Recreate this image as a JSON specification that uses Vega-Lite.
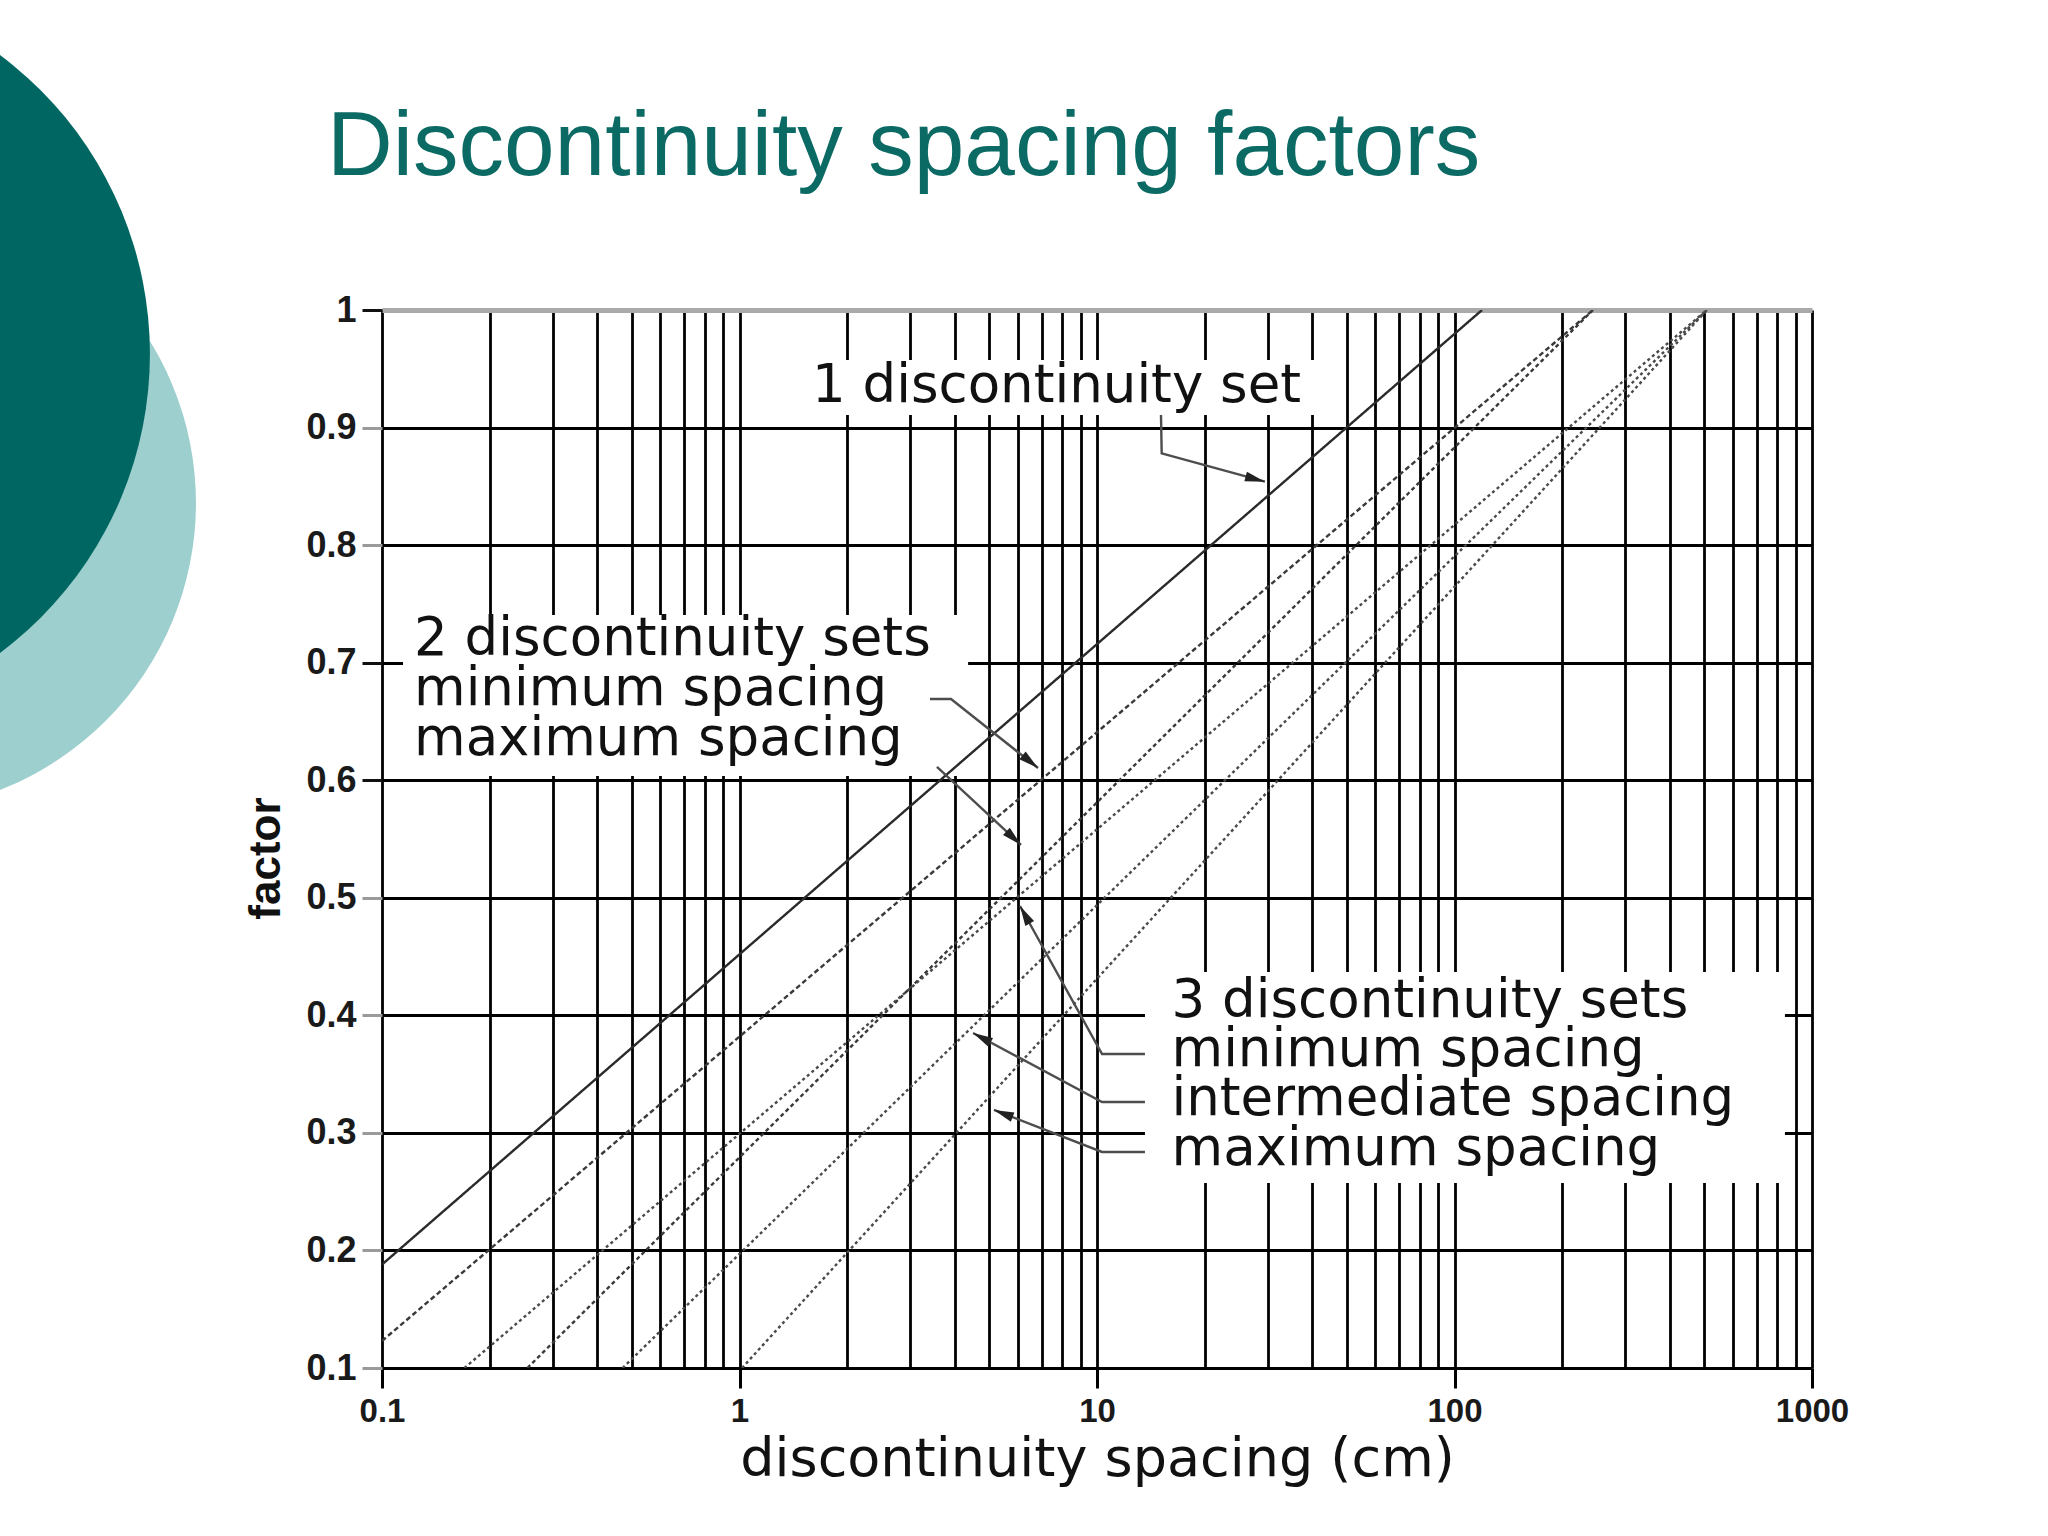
{
 "$schema": "https://vega.github.io/schema/vega-lite/v6.json",
 "width": 1430,
 "height": 1058,
 "autosize": {"type": "none"},
 "padding": {"left": 382, "top": 310, "right": 236, "bottom": 168},
 "background": "#ffffff",
 "config": {"view": {"stroke": null}},
 "title": {"text": "Discontinuity spacing factors", "anchor": "start", "frame": "group", "dx": -55, "offset": -285, "font": "Liberation Sans", "fontSize": 91, "fontWeight": "normal", "color": "#0b6a64", "baseline": "alphabetic"},
 "datasets": {
  "slide": [
   {"part": "light", "x": 0.00415, "y": 0.8358},
   {"part": "dark", "x": 0.00203, "y": 0.9626}
  ],
  "boxes": [
   {"box": "one", "x": 1.476, "x2": 44.8, "y": 0.9107, "y2": 0.9575},
   {"box": "two", "x": 0.1145, "x2": 4.36, "y": 0.6036, "y2": 0.7406},
   {"box": "three", "x": 13.62, "x2": 840, "y": 0.2574, "y2": 0.4369}
  ],
  "curves": [
   {"series": "1 set", "x": 0.1, "y": 0.188},
   {"series": "1 set", "x": 119.4, "y": 1.0},
   {"series": "2 sets minimum", "x": 0.1, "y": 0.123},
   {"series": "2 sets minimum", "x": 244, "y": 1.0},
   {"series": "2 sets maximum", "x": 0.255, "y": 0.1},
   {"series": "2 sets maximum", "x": 244, "y": 1.0},
   {"series": "3 sets minimum", "x": 0.17, "y": 0.1},
   {"series": "3 sets minimum", "x": 508, "y": 1.0},
   {"series": "3 sets intermediate", "x": 0.471, "y": 0.1},
   {"series": "3 sets intermediate", "x": 508, "y": 1.0},
   {"series": "3 sets maximum", "x": 1.016, "y": 0.1},
   {"series": "3 sets maximum", "x": 508, "y": 1.0}
  ],
  "leaders": [
   {"leader": "1 set", "order": 1, "x": 15.1, "y": 0.9107},
   {"leader": "1 set", "order": 2, "x": 15.17, "y": 0.8781},
   {"leader": "1 set", "order": 3, "x": 29.5, "y": 0.854},
   {"leader": "2 min", "order": 1, "x": 3.41, "y": 0.6691},
   {"leader": "2 min", "order": 2, "x": 3.905, "y": 0.6691},
   {"leader": "2 min", "order": 3, "x": 6.84, "y": 0.6104},
   {"leader": "2 max", "order": 1, "x": 3.567, "y": 0.6113},
   {"leader": "2 max", "order": 2, "x": 6.13, "y": 0.5449},
   {"leader": "3 min", "order": 1, "x": 13.62, "y": 0.3671},
   {"leader": "3 min", "order": 2, "x": 10.33, "y": 0.3671},
   {"leader": "3 min", "order": 3, "x": 6.09, "y": 0.493},
   {"leader": "3 int", "order": 1, "x": 13.62, "y": 0.3263},
   {"leader": "3 int", "order": 2, "x": 10.33, "y": 0.3263},
   {"leader": "3 int", "order": 3, "x": 4.5, "y": 0.385},
   {"leader": "3 max", "order": 1, "x": 13.62, "y": 0.2838},
   {"leader": "3 max", "order": 2, "x": 10.33, "y": 0.2838},
   {"leader": "3 max", "order": 3, "x": 5.15, "y": 0.3195}
  ],
  "arrows": [
   {"leader": "1 set", "x": 29.5, "y": 0.854},
   {"leader": "2 min", "x": 6.84, "y": 0.6104},
   {"leader": "2 max", "x": 6.13, "y": 0.5449},
   {"leader": "3 min", "x": 6.09, "y": 0.493},
   {"leader": "3 int", "x": 4.5, "y": 0.385},
   {"leader": "3 max", "x": 5.15, "y": 0.3195}
  ],
  "notes": [
   {"note": "one", "label": "1 discontinuity set", "x": 1.595, "y": 0.9217},
   {"note": "two", "label": "2 discontinuity sets\nminimum spacing\nmaximum spacing", "x": 0.1229, "y": 0.7065},
   {"note": "three", "label": "3 discontinuity sets\nminimum spacing\nintermediate spacing\nmaximum spacing", "x": 16.16, "y": 0.3989}
  ]
 },
 "layer": [
  {
   "data": {"name": "slide"},
   "transform": [{"filter": "datum.part == 'light'"}],
   "mark": {"type": "point", "shape": "circle", "filled": true, "size": 379456, "color": "#9dcfce", "opacity": 1, "strokeWidth": 0, "clip": false},
   "encoding": {
    "x": {"field": "x", "type": "quantitative", "scale": {"type": "log", "domain": [0.1, 1000], "nice": false}},
    "y": {"field": "y", "type": "quantitative", "scale": {"domain": [0.1, 1], "zero": false, "nice": false}}
   }
  },
  {
   "data": {"name": "slide"},
   "transform": [{"filter": "datum.part == 'dark'"}],
   "mark": {"type": "point", "shape": "circle", "filled": true, "size": 556516, "color": "#006661", "opacity": 1, "strokeWidth": 0, "clip": false},
   "encoding": {
    "x": {"field": "x", "type": "quantitative", "scale": {"type": "log", "domain": [0.1, 1000], "nice": false}},
    "y": {"field": "y", "type": "quantitative", "scale": {"domain": [0.1, 1], "zero": false, "nice": false}}
   }
  },
  {
   "data": {"name": "boxes"},
   "mark": {"type": "rect", "fill": "#ffffff", "strokeWidth": 0},
   "encoding": {
    "x": {"field": "x", "type": "quantitative", "scale": {"type": "log", "domain": [0.1, 1000], "nice": false},
     "axis": {
      "title": "discontinuity spacing (cm)",
      "titleFont": "DejaVu Sans", "titleFontSize": 54, "titleFontWeight": "normal", "titleColor": "#111111", "titlePadding": 4,
      "values": [0.1,0.2,0.3,0.4,0.5,0.6,0.7,0.8,0.9,1,2,3,4,5,6,7,8,9,10,20,30,40,50,60,70,80,90,100,200,300,400,500,600,700,800,900,1000],
      "labelExpr": "datum.value == 0.1 ? '0.1' : datum.value == 1 ? '1' : datum.value == 10 ? '10' : datum.value == 100 ? '100' : datum.value == 1000 ? '1000' : ''",
      "labelFont": "Liberation Sans Narrow, Liberation Sans", "labelFontSize": 33, "labelFontWeight": "bold", "labelColor": "#1a1a1a", "labelPadding": 7,
      "labelFlush": false, "labelOverlap": false, "labelBound": false,
      "ticks": true, "tickSize": 20, "tickWidth": 3, "tickColor": "#000000",
      "tickOpacity": {"condition": {"test": "datum.value == 0.1 || datum.value == 1 || datum.value == 10 || datum.value == 100 || datum.value == 1000", "value": 1}, "value": 0},
      "grid": true, "gridColor": "#000000", "gridWidth": 2.8, "gridOpacity": 1,
      "domain": false
     }},
    "x2": {"field": "x2"},
    "y": {"field": "y", "type": "quantitative", "scale": {"domain": [0.1, 1], "zero": false, "nice": false},
     "axis": {
      "title": "factor",
      "titleFont": "Liberation Sans", "titleFontSize": 44, "titleFontWeight": "bold", "titleColor": "#111111", "titlePadding": 17, "titleY": 548,
      "values": [0.1,0.2,0.3,0.4,0.5,0.6,0.7,0.8,0.9,1],
      "labelExpr": "datum.value >= 1 ? '1' : format(datum.value, '.1f')",
      "labelFont": "Liberation Sans", "labelFontSize": 36, "labelFontWeight": "bold", "labelColor": "#1a1a1a", "labelPadding": 6,
      "labelOverlap": false, "labelBound": false, "labelFlush": false,
      "tickSize": 20, "tickWidth": 3,
      "tickColor": {"condition": {"test": "datum.value >= 0.95 || (datum.value > 0.55 && datum.value < 0.75)", "value": "#111111"}, "value": "#9a9a9a"},
      "grid": true,
      "gridColor": {"condition": {"test": "datum.value >= 0.99", "value": "#aaaaaa"}, "value": "#000000"},
      "gridWidth": {"condition": {"test": "datum.value >= 0.99", "value": 5}, "value": 2.8},
      "gridOpacity": 1,
      "domain": false
     }},
    "y2": {"field": "y2"}
   }
  },
  {
   "data": {"name": "curves"},
   "mark": {"type": "line", "strokeWidth": 2.4, "clip": true},
   "encoding": {
    "x": {"field": "x", "type": "quantitative", "scale": {"type": "log", "domain": [0.1, 1000], "nice": false}},
    "y": {"field": "y", "type": "quantitative", "scale": {"domain": [0.1, 1], "zero": false, "nice": false}},
    "detail": {"field": "series"},
    "color": {"field": "series", "type": "nominal", "legend": null,
     "scale": {"domain": ["1 set", "2 sets minimum", "2 sets maximum", "3 sets minimum", "3 sets intermediate", "3 sets maximum"],
               "range": ["#2a2a2a", "#3a3a3a", "#3a3a3a", "#4a4a4a", "#4a4a4a", "#4a4a4a"]}},
    "strokeDash": {"field": "series", "type": "nominal", "legend": null,
     "scale": {"domain": ["1 set", "2 sets minimum", "2 sets maximum", "3 sets minimum", "3 sets intermediate", "3 sets maximum"],
               "range": [[1, 0], [5, 3], [4, 3], [3, 3], [3, 3], [3, 3]]}}
   }
  },
  {
   "data": {"name": "leaders"},
   "mark": {"type": "line", "strokeWidth": 2.4, "color": "#4d4d4d"},
   "encoding": {
    "x": {"field": "x", "type": "quantitative", "scale": {"type": "log", "domain": [0.1, 1000], "nice": false}},
    "y": {"field": "y", "type": "quantitative", "scale": {"domain": [0.1, 1], "zero": false, "nice": false}},
    "detail": {"field": "leader"},
    "order": {"field": "order"}
   }
  },
  {
   "data": {"name": "arrows"},
   "transform": [{"filter": "datum.leader == '1 set'"}],
   "mark": {"type": "point", "shape": "M0,0L0.5,2L-0.5,2Z", "filled": true, "size": 400, "color": "#222222", "opacity": 1, "angle": 105},
   "encoding": {
    "x": {"field": "x", "type": "quantitative", "scale": {"type": "log", "domain": [0.1, 1000], "nice": false}},
    "y": {"field": "y", "type": "quantitative", "scale": {"domain": [0.1, 1], "zero": false, "nice": false}}
   }
  },
  {
   "data": {"name": "arrows"},
   "transform": [{"filter": "datum.leader == '2 min'"}],
   "mark": {"type": "point", "shape": "M0,0L0.5,2L-0.5,2Z", "filled": true, "size": 400, "color": "#222222", "opacity": 1, "angle": 129},
   "encoding": {
    "x": {"field": "x", "type": "quantitative", "scale": {"type": "log", "domain": [0.1, 1000], "nice": false}},
    "y": {"field": "y", "type": "quantitative", "scale": {"domain": [0.1, 1], "zero": false, "nice": false}}
   }
  },
  {
   "data": {"name": "arrows"},
   "transform": [{"filter": "datum.leader == '2 max'"}],
   "mark": {"type": "point", "shape": "M0,0L0.5,2L-0.5,2Z", "filled": true, "size": 400, "color": "#222222", "opacity": 1, "angle": 133},
   "encoding": {
    "x": {"field": "x", "type": "quantitative", "scale": {"type": "log", "domain": [0.1, 1000], "nice": false}},
    "y": {"field": "y", "type": "quantitative", "scale": {"domain": [0.1, 1], "zero": false, "nice": false}}
   }
  },
  {
   "data": {"name": "arrows"},
   "transform": [{"filter": "datum.leader == '3 min'"}],
   "mark": {"type": "point", "shape": "M0,0L0.5,2L-0.5,2Z", "filled": true, "size": 400, "color": "#222222", "opacity": 1, "angle": 331},
   "encoding": {
    "x": {"field": "x", "type": "quantitative", "scale": {"type": "log", "domain": [0.1, 1000], "nice": false}},
    "y": {"field": "y", "type": "quantitative", "scale": {"domain": [0.1, 1], "zero": false, "nice": false}}
   }
  },
  {
   "data": {"name": "arrows"},
   "transform": [{"filter": "datum.leader == '3 int'"}],
   "mark": {"type": "point", "shape": "M0,0L0.5,2L-0.5,2Z", "filled": true, "size": 400, "color": "#222222", "opacity": 1, "angle": 298},
   "encoding": {
    "x": {"field": "x", "type": "quantitative", "scale": {"type": "log", "domain": [0.1, 1000], "nice": false}},
    "y": {"field": "y", "type": "quantitative", "scale": {"domain": [0.1, 1], "zero": false, "nice": false}}
   }
  },
  {
   "data": {"name": "arrows"},
   "transform": [{"filter": "datum.leader == '3 max'"}],
   "mark": {"type": "point", "shape": "M0,0L0.5,2L-0.5,2Z", "filled": true, "size": 400, "color": "#222222", "opacity": 1, "angle": 291},
   "encoding": {
    "x": {"field": "x", "type": "quantitative", "scale": {"type": "log", "domain": [0.1, 1000], "nice": false}},
    "y": {"field": "y", "type": "quantitative", "scale": {"domain": [0.1, 1], "zero": false, "nice": false}}
   }
  },
  {
   "data": {"name": "notes"},
   "transform": [{"filter": "datum.note != 'three'"}],
   "mark": {"type": "text", "align": "left", "baseline": "alphabetic", "font": "DejaVu Sans", "fontSize": 53, "lineBreak": "\n", "lineHeight": 50, "color": "#111111"},
   "encoding": {
    "x": {"field": "x", "type": "quantitative", "scale": {"type": "log", "domain": [0.1, 1000], "nice": false}},
    "y": {"field": "y", "type": "quantitative", "scale": {"domain": [0.1, 1], "zero": false, "nice": false}},
    "text": {"field": "label"}
   }
  },
  {
   "data": {"name": "notes"},
   "transform": [{"filter": "datum.note == 'three'"}],
   "mark": {"type": "text", "align": "left", "baseline": "alphabetic", "font": "DejaVu Sans", "fontSize": 53, "lineBreak": "\n", "lineHeight": 49.3, "color": "#111111"},
   "encoding": {
    "x": {"field": "x", "type": "quantitative", "scale": {"type": "log", "domain": [0.1, 1000], "nice": false}},
    "y": {"field": "y", "type": "quantitative", "scale": {"domain": [0.1, 1], "zero": false, "nice": false}},
    "text": {"field": "label"}
   }
  }
 ]
}
